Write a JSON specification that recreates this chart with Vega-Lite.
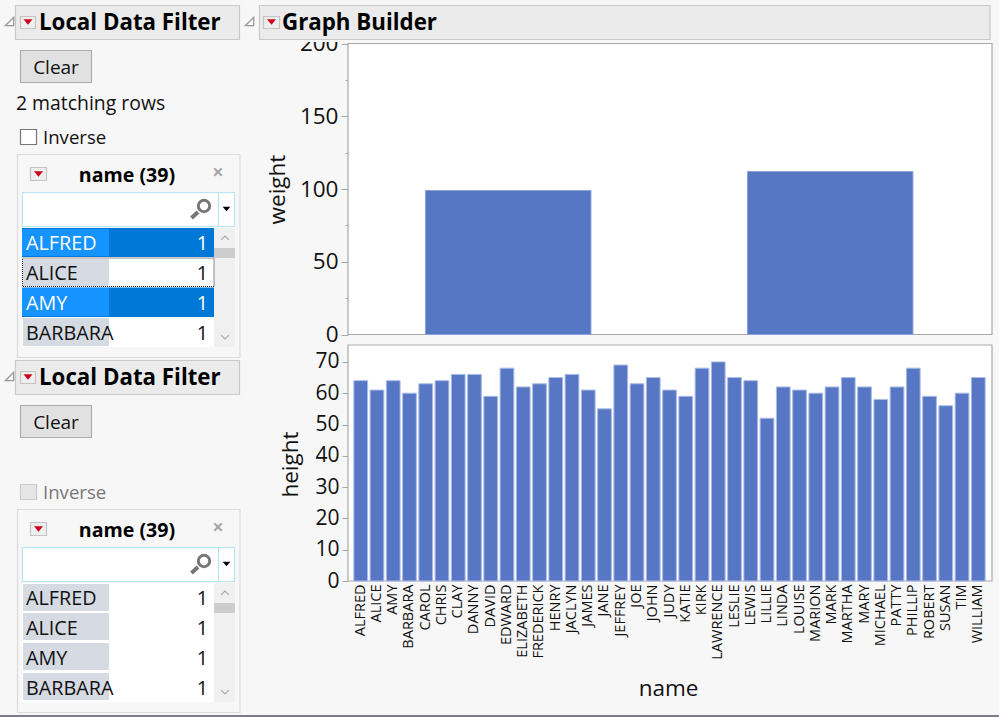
{"$schema":"https://vega.github.io/schema/vega-lite/v6.json","width":999,"height":717,"padding":0,"autosize":{"type":"none"},"background":"#f7f7f7","config":{"view":{"stroke":null},"font":"Open Sans","axis":{"labelFont":"Open Sans","titleFont":"Open Sans","labelColor":"#111111","titleColor":"#111111","titleFontWeight":"normal","grid":false,"domain":false,"tickColor":"#a9a9a9","labelOverlap":false,"labelBound":false,"labelFlush":false}},
"resolve":{"scale":{"x":"independent","y":"independent"},"axis":{"x":"independent","y":"independent"}},
"layer":[
{"encoding":{"x":{"field":"x","type":"quantitative","scale":{"domain":[0,999],"range":[0,999],"nice":false,"zero":false},"axis":null},"y":{"field":"y","type":"quantitative","scale":{"domain":[0,717],"range":[0,717],"nice":false,"zero":false},"axis":null}},
"layer":[
{"data":{"values":[
{"kind":"cover","x":259,"x2":999,"y":0,"y2":42},
{"kind":"header","x":15.5,"x2":239.5,"y":5.5,"y2":39.5},
{"kind":"header","x":259.5,"x2":990,"y":5.5,"y2":39.5},
{"kind":"header","x":15.5,"x2":239.5,"y":360.5,"y2":394.5},
{"kind":"menu","x":20.5,"x2":35.5,"y":16.5,"y2":28.5},
{"kind":"menu","x":263.5,"x2":279.5,"y":16.5,"y2":28.5},
{"kind":"menu","x":20.5,"x2":35.5,"y":371.5,"y2":383.5},
{"kind":"clear","x":20.5,"x2":91.5,"y":50.5,"y2":82.5},
{"kind":"clear","x":20.5,"x2":91.5,"y":405.5,"y2":437.5},
{"kind":"check","x":20.5,"x2":36.5,"y":129.5,"y2":144.5},
{"kind":"checkoff","x":20.5,"x2":36.5,"y":484.5,"y2":499.5},
{"kind":"panel","x":17.5,"x2":240,"y":154.5,"y2":357.5},
{"kind":"panel","x":17.5,"x2":240,"y":509.5,"y2":712.5},
{"kind":"menu","x":30.5,"x2":46.5,"y":167.5,"y2":180.5},
{"kind":"menu","x":30.5,"x2":46.5,"y":522.5,"y2":535.5},
{"kind":"search","x":22.5,"x2":234.5,"y":192.5,"y2":226.5},
{"kind":"search","x":22.5,"x2":234.5,"y":547.5,"y2":581.5},
{"kind":"search","x":218.5,"x2":218.5,"y":192.5,"y2":226.5},
{"kind":"search","x":218.5,"x2":218.5,"y":547.5,"y2":581.5},
{"kind":"list","x":22,"x2":214,"y":228,"y2":347},
{"kind":"list","x":22,"x2":214,"y":583,"y2":702},
{"kind":"track","x":214,"x2":235,"y":228,"y2":347},
{"kind":"track","x":214,"x2":235,"y":583,"y2":702},
{"kind":"thumb","x":214,"x2":235,"y":248,"y2":258},
{"kind":"thumb","x":214,"x2":235,"y":603,"y2":613},
{"kind":"sel","x":22,"x2":214,"y":228,"y2":257},
{"kind":"sellight","x":22,"x2":109,"y":229,"y2":256},
{"kind":"sel","x":22,"x2":214,"y":287.5,"y2":317},
{"kind":"sellight","x":22,"x2":109,"y":288,"y2":316},
{"kind":"tag","x":23,"x2":109,"y":259,"y2":286},
{"kind":"tag","x":23,"x2":109,"y":318,"y2":346},
{"kind":"tag","x":23,"x2":109,"y":584,"y2":611},
{"kind":"tag","x":23,"x2":109,"y":613,"y2":640},
{"kind":"tag","x":23,"x2":109,"y":643,"y2":670},
{"kind":"tag","x":23,"x2":109,"y":673,"y2":700},
{"kind":"plot","x":348,"x2":992,"y":43.5,"y2":334.5},
{"kind":"plot","x":348,"x2":992,"y":345,"y2":581}
]},"mark":{"type":"rect","strokeWidth":1.2},"encoding":{"x2":{"field":"x2"},"y2":{"field":"y2"},
"fill":{"field":"kind","type":"nominal","legend":null,"scale":{"domain":["cover","header","menu","clear","check","checkoff","panel","search","list","track","thumb","sel","sellight","tag","plot"],"range":["#f7f7f7","#ebebeb","#eeeeee","#e1e1e1","#ffffff","#e6e6e6","#f7f7f7","#ffffff","#ffffff","#f0f0f0","#cdcdcd","#0078d7","#1593ff","#d6dbe3","#ffffff"]}},
"stroke":{"field":"kind","type":"nominal","legend":null,"scale":{"domain":["cover","header","menu","clear","check","checkoff","panel","search","list","track","thumb","sel","sellight","tag","plot"],"range":["transparent","#c9c9c9","#c4c4c4","#adadad","#767676","#cccccc","#dcdcdc","#b9e3f7","transparent","transparent","transparent","transparent","transparent","transparent","#a9a9a9"]}}}},
{"data":{"values":[{"x":22.5,"x2":214,"y":258,"y2":286.5}]},"mark":{"type":"rect","fill":"transparent","stroke":"#222222","strokeDash":[1,1],"strokeWidth":1},"encoding":{"x2":{"field":"x2"},"y2":{"field":"y2"}}},
{"data":{"values":[{"x":0,"x2":999,"y":716,"y2":716}]},"mark":{"type":"rule","stroke":"#555566","strokeWidth":1.5},"encoding":{"x2":{"field":"x2"},"y2":{"field":"y2"}}},
{"data":{"values":[{"x":28,"y":22},{"x":271.5,"y":22},{"x":28,"y":377},{"x":38.5,"y":174},{"x":38.5,"y":529}]},"mark":{"type":"point","shape":"M -1 -0.6 L 1 -0.6 L 0 0.6 Z","filled":true,"fill":"#d0021b","stroke":null,"size":80,"opacity":1},"encoding":{}},
{"data":{"values":[{"x":226.5,"y":209},{"x":226.5,"y":564}]},"mark":{"type":"point","shape":"M -1 -0.6 L 1 -0.6 L 0 0.6 Z","filled":true,"fill":"#000000","stroke":null,"size":60,"opacity":1},"encoding":{}},
{"data":{"values":[{"x":9.5,"y":21.5},{"x":249.5,"y":21.5},{"x":9.5,"y":376.5}]},"mark":{"type":"point","shape":"M 1 -1 L 1 1 L -1 1 Z","filled":false,"stroke":"#999999","strokeWidth":1.3,"size":70,"opacity":1},"encoding":{}},
{"data":{"values":[{"x":225,"y":238},{"x":225,"y":593}]},"mark":{"type":"point","shape":"M -1 0.5 L 0 -0.5 L 1 0.5","filled":false,"stroke":"#a8a8a8","strokeWidth":1.2,"size":60,"opacity":1},"encoding":{}},
{"data":{"values":[{"x":225,"y":337},{"x":225,"y":692}]},"mark":{"type":"point","shape":"M -1 -0.5 L 0 0.5 L 1 -0.5","filled":false,"stroke":"#a8a8a8","strokeWidth":1.2,"size":60,"opacity":1},"encoding":{}},
{"data":{"values":[{"x":204,"y":206},{"x":204,"y":561}]},"mark":{"type":"point","shape":"circle","filled":false,"stroke":"#777777","strokeWidth":3,"size":130,"opacity":1},"encoding":{}},
{"data":{"values":[{"x":198,"x2":191.5,"y":212,"y2":218},{"x":198,"x2":191.5,"y":567,"y2":573}]},"mark":{"type":"rule","stroke":"#777777","strokeWidth":4},"encoding":{"x2":{"field":"x2"},"y2":{"field":"y2"}}},
{"data":{"values":[{"t":"Local Data Filter","x":39,"y":23},{"t":"Graph Builder","x":282,"y":23},{"t":"Local Data Filter","x":39,"y":378}]},"mark":{"type":"text","font":"Open Sans","fontWeight":"bold","fontSize":22.3,"align":"left","baseline":"middle","fill":"#000000"},"encoding":{"text":{"field":"t"}}},
{"data":{"values":[{"t":"name (39)","x":127,"y":176},{"t":"name (39)","x":127,"y":531}]},"mark":{"type":"text","font":"Open Sans","fontWeight":"bold","fontSize":19.6,"align":"center","baseline":"middle","fill":"#000000"},"encoding":{"text":{"field":"t"}}},
{"data":{"values":[{"t":"×","x":218,"y":173},{"t":"×","x":218,"y":528}]},"mark":{"type":"text","font":"Open Sans","fontWeight":"bold","fontSize":20,"align":"center","baseline":"middle","fill":"#a8a8a8"},"encoding":{"text":{"field":"t"}}},
{"data":{"values":[{"t":"Clear","x":56,"y":68},{"t":"Clear","x":56,"y":423}]},"mark":{"type":"text","font":"Open Sans","fontSize":19,"align":"center","baseline":"middle","fill":"#111111"},"encoding":{"text":{"field":"t"}}},
{"data":{"values":[{"t":"2 matching rows","x":16,"y":104}]},"mark":{"type":"text","font":"Open Sans","fontSize":19.4,"align":"left","baseline":"middle","fill":"#111111"},"encoding":{"text":{"field":"t"}}},
{"data":{"values":[{"t":"Inverse","x":43,"y":138}]},"mark":{"type":"text","font":"Open Sans","fontSize":18.6,"align":"left","baseline":"middle","fill":"#111111"},"encoding":{"text":{"field":"t"}}},
{"data":{"values":[{"t":"Inverse","x":43,"y":493}]},"mark":{"type":"text","font":"Open Sans","fontSize":18.6,"align":"left","baseline":"middle","fill":"#777777"},"encoding":{"text":{"field":"t"}}},
{"data":{"values":[{"t":"ALICE","x":26,"y":274},{"t":"BARBARA","x":26,"y":334},{"t":"ALFRED","x":26,"y":599},{"t":"ALICE","x":26,"y":629},{"t":"AMY","x":26,"y":659},{"t":"BARBARA","x":26,"y":689}]},"mark":{"type":"text","font":"Open Sans","fontSize":19.8,"align":"left","baseline":"middle","fill":"#111111"},"encoding":{"text":{"field":"t"}}},
{"data":{"values":[{"t":"ALFRED","x":26,"y":244},{"t":"AMY","x":26,"y":304}]},"mark":{"type":"text","font":"Open Sans","fontSize":19.8,"align":"left","baseline":"middle","fill":"#ffffff"},"encoding":{"text":{"field":"t"}}},
{"data":{"values":[{"t":"1","x":208,"y":274},{"t":"1","x":208,"y":334},{"t":"1","x":208,"y":599},{"t":"1","x":208,"y":629},{"t":"1","x":208,"y":659},{"t":"1","x":208,"y":689}]},"mark":{"type":"text","font":"Open Sans","fontSize":19.8,"align":"right","baseline":"middle","fill":"#111111"},"encoding":{"text":{"field":"t"}}},
{"data":{"values":[{"t":"1","x":208,"y":244},{"t":"1","x":208,"y":304}]},"mark":{"type":"text","font":"Open Sans","fontSize":19.8,"align":"right","baseline":"middle","fill":"#ffffff"},"encoding":{"text":{"field":"t"}}}
]},
{"data":{"values":[{"name":"ALFRED","weight":99},{"name":"AMY","weight":112}]},"mark":{"type":"bar","fill":"#5776c3","stroke":"#8ba3dc","strokeWidth":1},
"encoding":{"x":{"field":"name","type":"nominal","sort":null,"scale":{"range":[347.2,991.2],"paddingInner":0.486,"paddingOuter":0.243},"axis":null},
"y":{"field":"weight","type":"quantitative","scale":{"domain":[0,200],"range":[334.5,43.5],"nice":false},"axis":{"orient":"left","offset":-348,"values":[0,25,50,75,100,125,150,175,200],"labelExpr":"datum.value % 50 === 0 ? datum.label : ''","tickSize":{"condition":{"test":"datum.value % 50 === 0","value":7},"value":3},"labelFontSize":22.5,"labelPadding":3,"title":"weight","titleFontSize":22.5,"titleX":-70.5,"titleY":189,"titleAngle":270,"titleAlign":"center","titleBaseline":"middle"}}}},
{"data":{"values":[{"name":"ALFRED","height":64},{"name":"ALICE","height":61},{"name":"AMY","height":64},{"name":"BARBARA","height":60},{"name":"CAROL","height":63},{"name":"CHRIS","height":64},{"name":"CLAY","height":66},{"name":"DANNY","height":66},{"name":"DAVID","height":59},{"name":"EDWARD","height":68},{"name":"ELIZABETH","height":62},{"name":"FREDERICK","height":63},{"name":"HENRY","height":65},{"name":"JACLYN","height":66},{"name":"JAMES","height":61},{"name":"JANE","height":55},{"name":"JEFFREY","height":69},{"name":"JOE","height":63},{"name":"JOHN","height":65},{"name":"JUDY","height":61},{"name":"KATIE","height":59},{"name":"KIRK","height":68},{"name":"LAWRENCE","height":70},{"name":"LESLIE","height":65},{"name":"LEWIS","height":64},{"name":"LILLIE","height":52},{"name":"LINDA","height":62},{"name":"LOUISE","height":61},{"name":"MARION","height":60},{"name":"MARK","height":62},{"name":"MARTHA","height":65},{"name":"MARY","height":62},{"name":"MICHAEL","height":58},{"name":"PATTY","height":62},{"name":"PHILLIP","height":68},{"name":"ROBERT","height":59},{"name":"SUSAN","height":56},{"name":"TIM","height":60},{"name":"WILLIAM","height":65}]},"mark":{"type":"bar","fill":"#5776c3","stroke":"#a9bbe8","strokeWidth":1},
"encoding":{"x":{"field":"name","type":"nominal","sort":null,"scale":{"range":[348,991],"paddingInner":0.155,"paddingOuter":0.36},"axis":{"orient":"bottom","offset":-136,"ticks":false,"labelAngle":270,"labelAlign":"right","labelBaseline":"middle","labelFontSize":14.5,"labelPadding":3,"title":"name","titleFontSize":22.5,"titleX":668,"titleY":107,"titleAlign":"center","titleBaseline":"middle"}},
"y":{"field":"height","type":"quantitative","scale":{"domain":[0,75.4],"range":[581,345],"nice":false},"axis":{"orient":"left","offset":-348,"values":[0,10,20,30,40,50,60,70],"tickSize":6,"labelFontSize":21,"labelPadding":3,"title":"height","titleFontSize":22.5,"titleX":-57.5,"titleY":464,"titleAngle":270,"titleAlign":"center","titleBaseline":"middle"}}}}
]}
